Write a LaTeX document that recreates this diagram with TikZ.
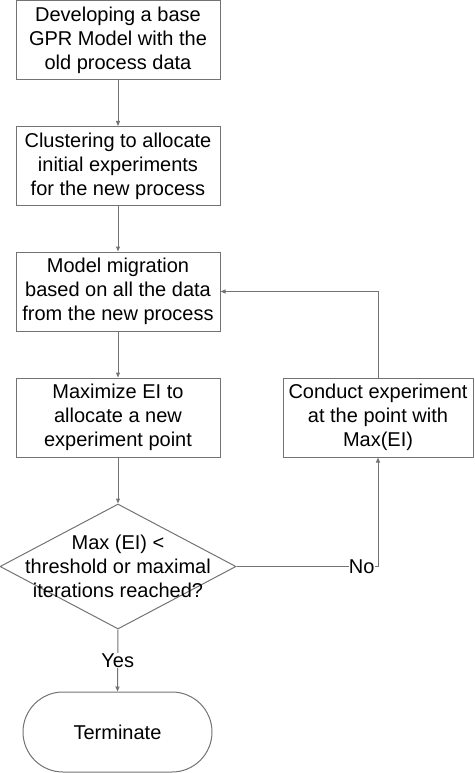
\documentclass[tikz,border=0pt]{standalone}
\usepackage{fontspec}
\setmainfont{Liberation Sans}
\usetikzlibrary{shapes.geometric,arrows.meta}

\newlength{\du}
\setlength{\du}{1pt}
\definecolor{linegray}{rgb}{0.450000, 0.450000, 0.450000}
\tikzset{
  procbox/.style={draw=linegray, line width=1\du, fill=white, inner sep=0pt,
    minimum width=204\du, minimum height=79\du, align=center},
  decision/.style={draw=linegray, line width=1\du, diamond, inner sep=0pt,
    minimum width=236\du, minimum height=125\du},
  termbox/.style={draw=linegray, line width=1\du, rounded corners=40\du, inner sep=0pt,
    minimum width=189\du, minimum height=80\du, align=center},
  flow/.style={draw=linegray, line width=1\du, -{Triangle[length=5pt,width=4pt]}},
  lbl/.style={fill=white, inner sep=1\du, text=black}
}

\begin{document}
\begin{tikzpicture}[font=\fontsize{20}{24}\selectfont]
\pgftransformxscale{1.000000}
\pgftransformyscale{-1.000000}
\useasboundingbox (0\du,0\du) rectangle (474\du,773\du);
% main column
\node[procbox] (develop) at (118\du,40.5\du){Developing a base\\GPR Model with the\\old process data};
\node[procbox] (cluster) at (118\du,166\du){Clustering to allocate\\initial experiments\\for the new process};
\node[procbox] (migrate) at (118\du,291.5\du){Model migration\\based on all the data\\from the new process};
\node[procbox] (maxei) at (118\du,417.5\du){Maximize EI to\\allocate a new\\experiment point};
\node[decision] (stop) at (118\du,566.5\du){};
\node[align=center] (stoptext) at (118\du,566.5\du){Max (EI) <\\threshold or maximal\\iterations reached?};
\node[termbox] (terminate) at (117.5\du,732\du){Terminate};
% loop column
\node[procbox, minimum width=190\du] (conduct) at (378\du,417.5\du){Conduct experiment\\at the point with\\Max(EI)};
% connectors
\draw[flow] (develop) -- (cluster);
\draw[flow] (cluster) -- (migrate);
\draw[flow] (migrate) -- (maxei);
\draw[flow] (maxei) -- (stop);
\draw[flow] (stop.south) -- node[lbl]{Yes} (terminate.north);
\draw[flow] (stop.east) -- node[lbl, pos=0.885, inner sep=0pt]{No} (stop.east -| conduct.south) -- (conduct.south);
\draw[flow] (conduct.north) |- (migrate.east);
\end{tikzpicture}
\end{document}
